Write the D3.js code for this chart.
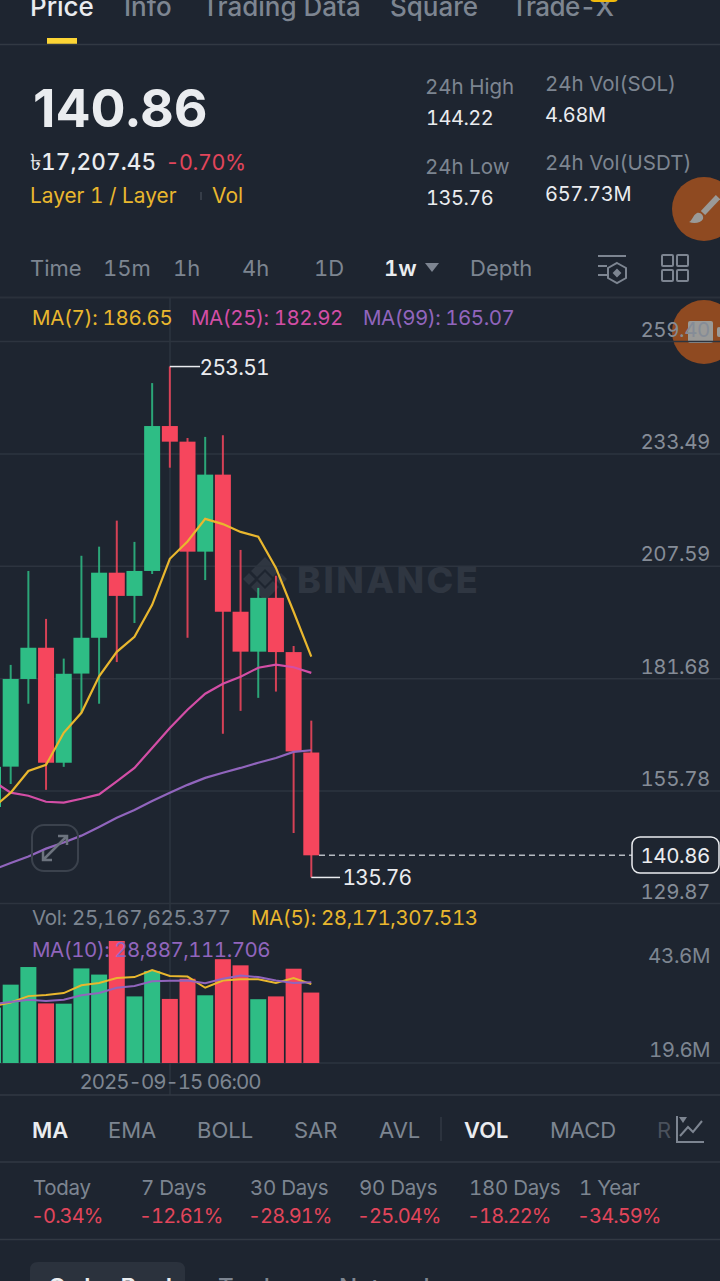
<!DOCTYPE html>
<html>
<head>
<meta charset="utf-8">
<script src="https://cdnjs.cloudflare.com/ajax/libs/d3/7.8.5/d3.min.js"></script>
<style>
  html, body { margin: 0; padding: 0; background: #1e2530; overflow: hidden; }
  svg { display: block; }
  text { font-family: Inter, "Noto Sans", sans-serif; font-variant-numeric: tabular-nums; }
  .axis path { display: none; }
  .axis line { stroke: #2d343f; stroke-width: 1.5px; }
  .axis text { fill: #858c97; font-size: 20.5px; text-anchor: end; letter-spacing: -0.4px; }
</style>
</head>
<body>
<script>
// candles, one per week
var weeks = ["2025-07-07","2025-07-14","2025-07-21","2025-07-28","2025-08-04","2025-08-11","2025-08-18","2025-08-25","2025-09-01","2025-09-08","2025-09-15","2025-09-22","2025-09-29","2025-10-06","2025-10-13","2025-10-20","2025-10-27","2025-11-03","2025-11-10"];
var opens  = [152.0,161.3,181.5,188.7,162.2,182.75,191,206,200.65,206.4,239.8,236.2,210.85,228.6,197,187.8,200.2,187.7,164.55];
var closes = [161.25,181.5,188.7,162.2,182.7,191,206,200.65,206.4,239.8,236.2,210.85,228.6,197,187.8,200.2,187.7,164.8,140.86];
var highs  = [162.9,184.75,206.4,195.35,186.2,209.9,212,218,213.1,249.7,253.51,237.05,237.3,237.7,211.25,202.5,205.3,189.1,171.9];
var lows   = [150.2,157.3,175.8,155.95,161.25,173.7,175.8,185.4,194.4,205.7,230.2,191,204.3,168.9,174.15,177.15,178.6,146,135.76];

var ma7  = [151.8,155.3,160.3,161.7,169.1,173.7,182.1,187.75,191.2,198.6,209.2,213.2,218.4,217.2,215.4,214.3,207.1,197,186.65];
var ma25 = [158,155.3,154.6,153.2,153,153.9,154.9,157.9,161,165.6,170.2,174.4,178.1,180.4,182,184.1,184.8,184.2,182.92];
var ma99 = [137.5,139.1,140.6,142.4,143.8,145.4,147.4,149.5,151.3,153.4,155.3,157.1,158.7,159.9,161,162.2,163.3,164.7,165.07];

// volume in millions
var volumes = [19.8,28,34.3,21.3,21.2,33.8,31.6,43.6,23.8,32.9,22.9,30.1,24.2,37.1,34.9,22.8,23.8,33.7,25.17];
var volMa5  = [20.3,21.6,23.9,24.3,25,27.8,28.6,30.4,30.7,33.2,31.1,30.9,26.9,29.5,29.9,29.9,28.6,30.4,28.17];
var volMa10 = [21,21.8,22.6,22.2,22.6,24.2,25,26.9,27.5,29.2,29.4,29.5,28.5,30.1,31.3,30.7,29.5,28.6,28.89];

var priceTicks = [259.40,233.49,207.59,181.68,155.78,129.87];

var tabs = [["Price",30,"#eaecef"],["Info",124,"#7d8591"],["Trading Data",202,"#7d8591"],["Square",390,"#7d8591"],["Trade-X",511,"#7d8591"]];
var intervals = [["Time",30],["15m",103],["1h",173],["4h",242],["1D",314],["Depth",470]];
var indicators = [["MA",32,"#eaecef"],["EMA",108,"#7d8591"],["BOLL",197,"#7d8591"],["SAR",294,"#7d8591"],["AVL",379,"#7d8591"],["VOL",464,"#eaecef"],["MACD",550,"#7d8591"],["R",657,"#4a515c"]];
var statLabels = ["Today","7 Days","30 Days","90 Days","180 Days","1 Year"];
var statValues = ["-0.34%","-12.61%","-28.91%","-25.04%","-18.22%","-34.59%"];
var statX = [33,141,250,359,469,579];

var UP = "#2ebd85", DOWN = "#f6465d", GREY = "#7d8591", LIGHT = "#eaecef";
var YELLOW = "#e9b72e", PINK = "#d34ea6", PURPLE = "#9165bd";

var svg = d3.select("body").append("svg").attr("width", 720).attr("height", 1281);

function label(str, x, y, size, color, weight, anchor, spacing) {
  return svg.append("text").attr("x", x).attr("y", y).attr("font-size", size)
    .attr("fill", color).attr("font-weight", weight || 400)
    .attr("text-anchor", anchor || "start").attr("letter-spacing", spacing || 0).text(str);
}
function rule(x1, y1, x2, y2, color, w) {
  return svg.append("line").attr("x1", x1).attr("y1", y1).attr("x2", x2).attr("y2", y2)
    .attr("stroke", color).attr("stroke-width", w || 1.5);
}

// header
tabs.forEach(function(t) { label(t[0], t[1], 16, 26, t[2], 500, "start", t[0] == "Trade-X" ? -0.6 : 0); });
svg.append("rect").attr("x", 47).attr("y", 38).attr("width", 30).attr("height", 6).attr("fill", "#fcd535");
svg.append("rect").attr("x", 590).attr("y", -6).attr("width", 28).attr("height", 8).attr("rx", 4).attr("fill", "#f0b90b");
rule(0, 44.5, 720, 44.5, "#323943");

label("140.86", 33, 127, 52, LIGHT, 700).style("font-variant-numeric", "normal");
label("৳17,207.45", 30, 170, 22.5, LIGHT, 500, "start", 0.1);
label("-0.70%", 165.5, 170, 21.5, "#e2455b", 400, "start", -0.4);
label("Layer 1 / Layer", 30, 203, 20.8, YELLOW);
rule(201, 192, 201, 200, "#3f4650", 1.5);
label("Vol", 212, 203, 21, YELLOW);

label("24h High", 425, 94, 20.5, GREY);
label("144.22", 426, 125, 20, LIGHT, 400, "start", -0.5);
label("24h Low", 425, 174, 20.5, GREY);
label("135.76", 426, 205, 20, LIGHT, 400, "start", -0.5);
label("24h Vol(SOL)", 545, 91, 20.5, GREY);
label("4.68M", 545, 122, 20, LIGHT, 400, "start", -0.3);
label("24h Vol(USDT)", 545, 170, 20.5, GREY);
label("657.73M", 545, 201, 20, LIGHT, 400, "start", -0.3);

// interval row
intervals.forEach(function(t) { label(t[0], t[1], 276, 22, GREY); });
label("1w", 384, 276, 22, LIGHT, 600);
svg.append("path").attr("d", "M425 263h14l-7 9z").attr("fill", GREY);
var ic = svg.append("g").attr("fill", "none").attr("stroke", GREY).attr("stroke-width", 2);
ic.append("path").attr("d", "M598 256h28M598 266h9M598 275h9M617 263l9 5v10l-9 5l-9-5v-10z");
ic.append("path").attr("d", "M617 270l3 3l-3 3l-3-3z").attr("fill", GREY);
[[662,255],[677,255],[662,270],[677,270]].forEach(function(p) {
  ic.append("rect").attr("x", p[0]).attr("y", p[1]).attr("width", 11).attr("height", 11).attr("rx", 1);
});
rule(0, 297.5, 720, 297.5, "#2a313b", 2);

// scales
var x = d3.scalePoint().domain(weeks).range([-7, 311.3]);
var y = d3.scaleLinear().domain([129.87, 259.40]).range([903, 341]);
var yVol = d3.scaleLinear().domain([0, 43.6]).range([1063, 941]);
var bodyW = 16;

// watermark sits under the grid
var wm = svg.append("g").attr("fill", "#2f3641");
wm.append("path").attr("d", "M265 557l14 14l-6 6l-8-8l-8 8l-6-6zM265 601l14-14l-6-6l-8 8l-8-8l-6 6zM243 579l6-6l6 6l-6 6zM287 579l-6-6l-6 6l6 6zM265 572l7 7l-7 7l-7-7z");
wm.append("text").attr("x", 297).attr("y", 593).attr("font-size", 36).attr("font-weight", 800).attr("letter-spacing", 2.5).text("BINANCE");

// second floating button sits behind the top price label
svg.append("circle").attr("cx", 704).attr("cy", 332).attr("r", 32).attr("fill", "#8f4a21");
svg.append("rect").attr("x", 688).attr("y", 321).attr("width", 25).attr("height", 22).attr("rx", 2).attr("fill", "#9a9a98");
svg.append("rect").attr("x", 717).attr("y", 327).attr("width", 4).attr("height", 10).attr("rx", 2).attr("fill", "#9a9a98");

// price grid
svg.append("g").attr("class", "axis").attr("transform", "translate(720,0)")
  .call(d3.axisLeft(y).tickValues(priceTicks).tickSize(720).tickFormat(d3.format(".2f")))
  .selectAll("text").attr("x", -10).attr("y", -5).attr("dy", 0);
rule(0, 1063, 720, 1063, "#2d343f");
rule(170, 298, 170, 1095, "#2d343f");
rule(0, 1095, 720, 1095, "#323943");

// candles
var idx = d3.range(weeks.length);
function col(i) { return closes[i] >= opens[i] ? UP : DOWN; }
svg.append("g").selectAll("line").data(idx).enter().append("line")
  .attr("x1", function(i) { return x(weeks[i]); })
  .attr("x2", function(i) { return x(weeks[i]); })
  .attr("y1", function(i) { return y(highs[i]); })
  .attr("y2", function(i) { return y(lows[i]); })
  .attr("stroke", col).attr("stroke-width", 2).attr("opacity", 0.85);
svg.append("g").selectAll("rect").data(idx).enter().append("rect")
  .attr("x", function(i) { return x(weeks[i]) - bodyW / 2; })
  .attr("width", bodyW)
  .attr("y", function(i) { return y(Math.max(opens[i], closes[i])); })
  .attr("height", function(i) { return Math.abs(y(opens[i]) - y(closes[i])); })
  .attr("fill", col);

// moving averages
var priceLine = d3.line().x(function(d, i) { return x(weeks[i]); }).y(function(d) { return y(d); });
[[ma99, PURPLE], [ma25, PINK], [ma7, YELLOW]].forEach(function(s) {
  svg.append("path").attr("d", priceLine(s[0])).attr("fill", "none")
    .attr("stroke", s[1]).attr("stroke-width", 2.2);
});

// high / low markers and last price
rule(x(weeks[10]), y(253.51), 200, y(253.51), LIGHT, 1.5);
label("253.51", 199.5, y(253.51) + 8, 21, LIGHT, 400, "start", -0.7);
rule(x(weeks[18]), y(135.76), 340, y(135.76), LIGHT, 1.5);
label("135.76", 342.5, y(135.76) + 8, 21, LIGHT, 400, "start", -0.8);
rule(319, y(140.86), 632, y(140.86), "#b5bac1", 1.5).attr("stroke-dasharray", "6 4");
svg.append("rect").attr("x", 632).attr("y", 837).attr("width", 87).attr("height", 36).attr("rx", 8)
  .attr("fill", "#1e2530").attr("stroke", LIGHT).attr("stroke-width", 1.5);
label("140.86", 710, 863, 20.5, LIGHT, 400, "end", -0.4);

// expand button
var btn = svg.append("g").attr("fill", "none").attr("stroke", "#3b424d").attr("stroke-width", 2);
btn.append("rect").attr("x", 32).attr("y", 825).attr("width", 46).attr("height", 46).attr("rx", 12);
btn.append("path").attr("d", "M43 860l24-24M58 836h9v9M43 851v9h9").attr("stroke", "#6c737e").attr("stroke-width", 2.5);

// legend
label("MA(7): 186.65", 32, 325, 20.5, YELLOW, 400, "start", -0.35);
label("MA(25): 182.92", 191, 325, 20.5, PINK, 400, "start", -0.45);
label("MA(99): 165.07", 363, 325, 20.5, PURPLE, 400, "start", -0.5);

// volume bars
svg.append("g").selectAll("rect").data(idx).enter().append("rect")
  .attr("x", function(i) { return x(weeks[i]) - bodyW / 2; })
  .attr("width", bodyW)
  .attr("y", function(i) { return yVol(volumes[i]); })
  .attr("height", function(i) { return yVol(0) - yVol(volumes[i]); })
  .attr("fill", col);
var volLine = d3.line().x(function(d, i) { return x(weeks[i]); }).y(function(d) { return yVol(d); });
[[volMa5, YELLOW], [volMa10, PURPLE]].forEach(function(s) {
  svg.append("path").attr("d", volLine(s[0])).attr("fill", "none")
    .attr("stroke", s[1]).attr("stroke-width", 2);
});

label("Vol: 25,167,625.377", 32, 925, 20.5, GREY, 400, "start", -0.28);
label("MA(5): 28,171,307.513", 251, 925, 20.5, YELLOW, 400, "start", -0.43);
label("MA(10): 28,887,111.706", 32, 957, 20.5, PURPLE, 400, "start", -0.5);
label("43.6M", 710, 963, 20.5, GREY, 400, "end", -0.4);
label("19.6M", 710, 1057, 20.5, GREY, 400, "end", -0.6);
label("2025-09-15 06:00", 170, 1089, 20.5, GREY, 400, "middle", -1);

// brush button
svg.append("circle").attr("cx", 704).attr("cy", 209).attr("r", 32).attr("fill", "#8f4a21");
svg.append("path").attr("d", "M718 197l-15 16").attr("stroke", "#9a9a98").attr("stroke-width", 6).attr("fill", "none");
svg.append("path").attr("d", "M689 222c3-1 4-7 8-9c4-1 7 3 6 6c-2 4-9 5-14 3z").attr("fill", "#9a9a98");

// indicator row
indicators.forEach(function(t) {
  label(t[0], t[1], 1138, 22, t[2], t[2] == LIGHT ? 600 : 400);
});
rule(441, 1117, 441, 1141, "#323943");
var chartIcon = svg.append("g").attr("fill", "none").attr("stroke", GREY).attr("stroke-width", 2);
chartIcon.append("path").attr("d", "M677 1116v26h27M680 1136l8-9l5 5l9-11");
svg.append("path").attr("d", "M679 1117h8l-4 6z").attr("fill", GREY);
rule(0, 1162, 720, 1162, "#323943");

// period stats
statLabels.forEach(function(t, i) { label(t, statX[i], 1195, 20.5, GREY, 400, "start", -0.3); });
statValues.forEach(function(t, i) { label(t, statX[i] - 2, 1223, 20, "#e2455b", 400, "start", -0.9); });
rule(0, 1239.5, 720, 1239.5, "#323943");

// bottom tabs, cut off by the window
svg.append("path").attr("d", "M30 1281v-11q0-8 8-8h139q8 0 8 8v11z").attr("fill", "#2b323d");
label("Order Book", 48, 1296, 24, LIGHT, 600);
label("Trades", 218, 1296, 24, GREY, 500);
label("Network", 339, 1296, 24, GREY, 500);
</script>
</body>
</html>
